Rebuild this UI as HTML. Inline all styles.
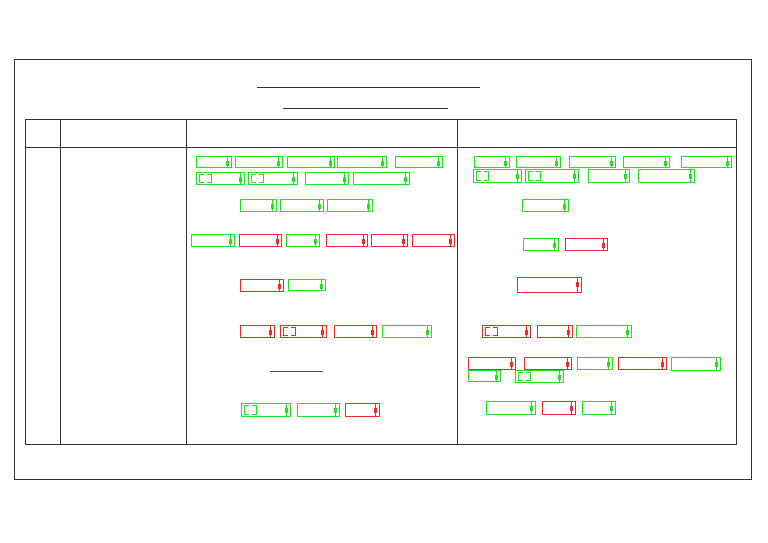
<!DOCTYPE html>
<html><head><style>
body{margin:0;width:768px;height:543px;background:#fff;position:relative;overflow:hidden;font-family:"Liberation Sans",sans-serif}
div{position:absolute;box-sizing:border-box}
.l{background:#333}
.b{border:1.5px solid}
.g{border-color:#22e022}
.r{border-color:#ee2a2a}
.b i{position:absolute;top:0;bottom:0;right:3px;width:1.5px}
.b em{position:absolute;right:2px;top:4px;width:3px;height:5px}
.g i,.g em{background:#22e022}
.r i,.r em{background:#ee2a2a}
.b s{position:absolute;top:1px;bottom:1px;width:4px;border:1.5px solid;text-decoration:none}
.b s.a{left:2px;border-right:none}
.b s.c{left:10px;border-left:none}
.g s{border-color:#22e022}.r s{border-color:#ee2a2a}
</style></head><body>
<div style="left:14px;top:59px;width:738px;height:421px;border:1px solid #333"></div>
<div class="l" style="left:257px;top:87px;width:223px;height:1px"></div>
<div class="l" style="left:283px;top:108px;width:165px;height:1px"></div>
<div style="left:25px;top:119px;width:712px;height:326px;border:1px solid #333"></div>
<div class="l" style="left:25px;top:147px;width:712px;height:1px"></div>
<div class="l" style="left:60px;top:119px;width:1px;height:326px"></div>
<div class="l" style="left:186px;top:119px;width:1px;height:326px"></div>
<div class="l" style="left:457px;top:119px;width:1px;height:326px"></div>
<div class="l" style="left:270px;top:371px;width:53px;height:1px;background:#555"></div>
<script>
const B=[
[196,156,36,12,'g'],[235,156,48,12,'g'],[287,156,48,12,'g'],[337,156,50,12,'g'],[395,156,48,12,'g'],
[196,172,49,13,'g',1],[248,172,50,13,'g',1],[305,172,44,13,'g'],[353,172,57,13,'g'],
[240,199,37,13,'g'],[280,199,44,13,'g'],[327,199,46,13,'g'],
[191,234,44,13,'g'],[239,234,43,13,'r'],[286,234,34,13,'g'],[326,234,42,13,'r'],[371,234,37,13,'r'],[412,234,43,13,'r'],
[240,279,44,13,'r'],[288,279,38,12,'g'],
[240,325,35,13,'r'],[280,325,47,13,'r',1],[334,325,43,13,'r'],[382,325,50,13,'g'],
[241,403,50,14,'g',1],[297,403,43,14,'g'],[345,403,35,14,'r'],
[474,156,36,12,'g'],[516,156,45,12,'g'],[569,156,47,12,'g'],[623,156,47,12,'g'],[681,156,51,12,'g'],
[473,169,49,14,'g',1],[525,169,54,14,'g',1],[588,169,42,14,'g'],[638,169,57,14,'g'],
[522,199,47,13,'g'],
[523,238,36,13,'g'],[565,238,43,13,'r'],
[517,277,65,16,'r'],
[482,325,49,13,'r',1],[537,325,36,13,'r'],[576,325,56,13,'g'],
[468,357,48,13,'r'],[524,357,48,13,'r'],[577,357,36,13,'g'],[618,357,49,13,'r'],[671,357,50,14,'g'],
[468,370,33,12,'g'],[515,370,49,13,'g',1],
[486,401,50,14,'g'],[542,401,34,14,'r'],[582,401,34,14,'g']];
let h='';for(const [x,y,w,hh,c,s] of B){h+=`<div class="b ${c}" style="left:${x}px;top:${y}px;width:${w}px;height:${hh}px">${s?'<s class="a"></s><s class="c"></s>':''}<i></i><em></em></div>`}
document.body.insertAdjacentHTML('beforeend',h);
</script>
</body></html>
